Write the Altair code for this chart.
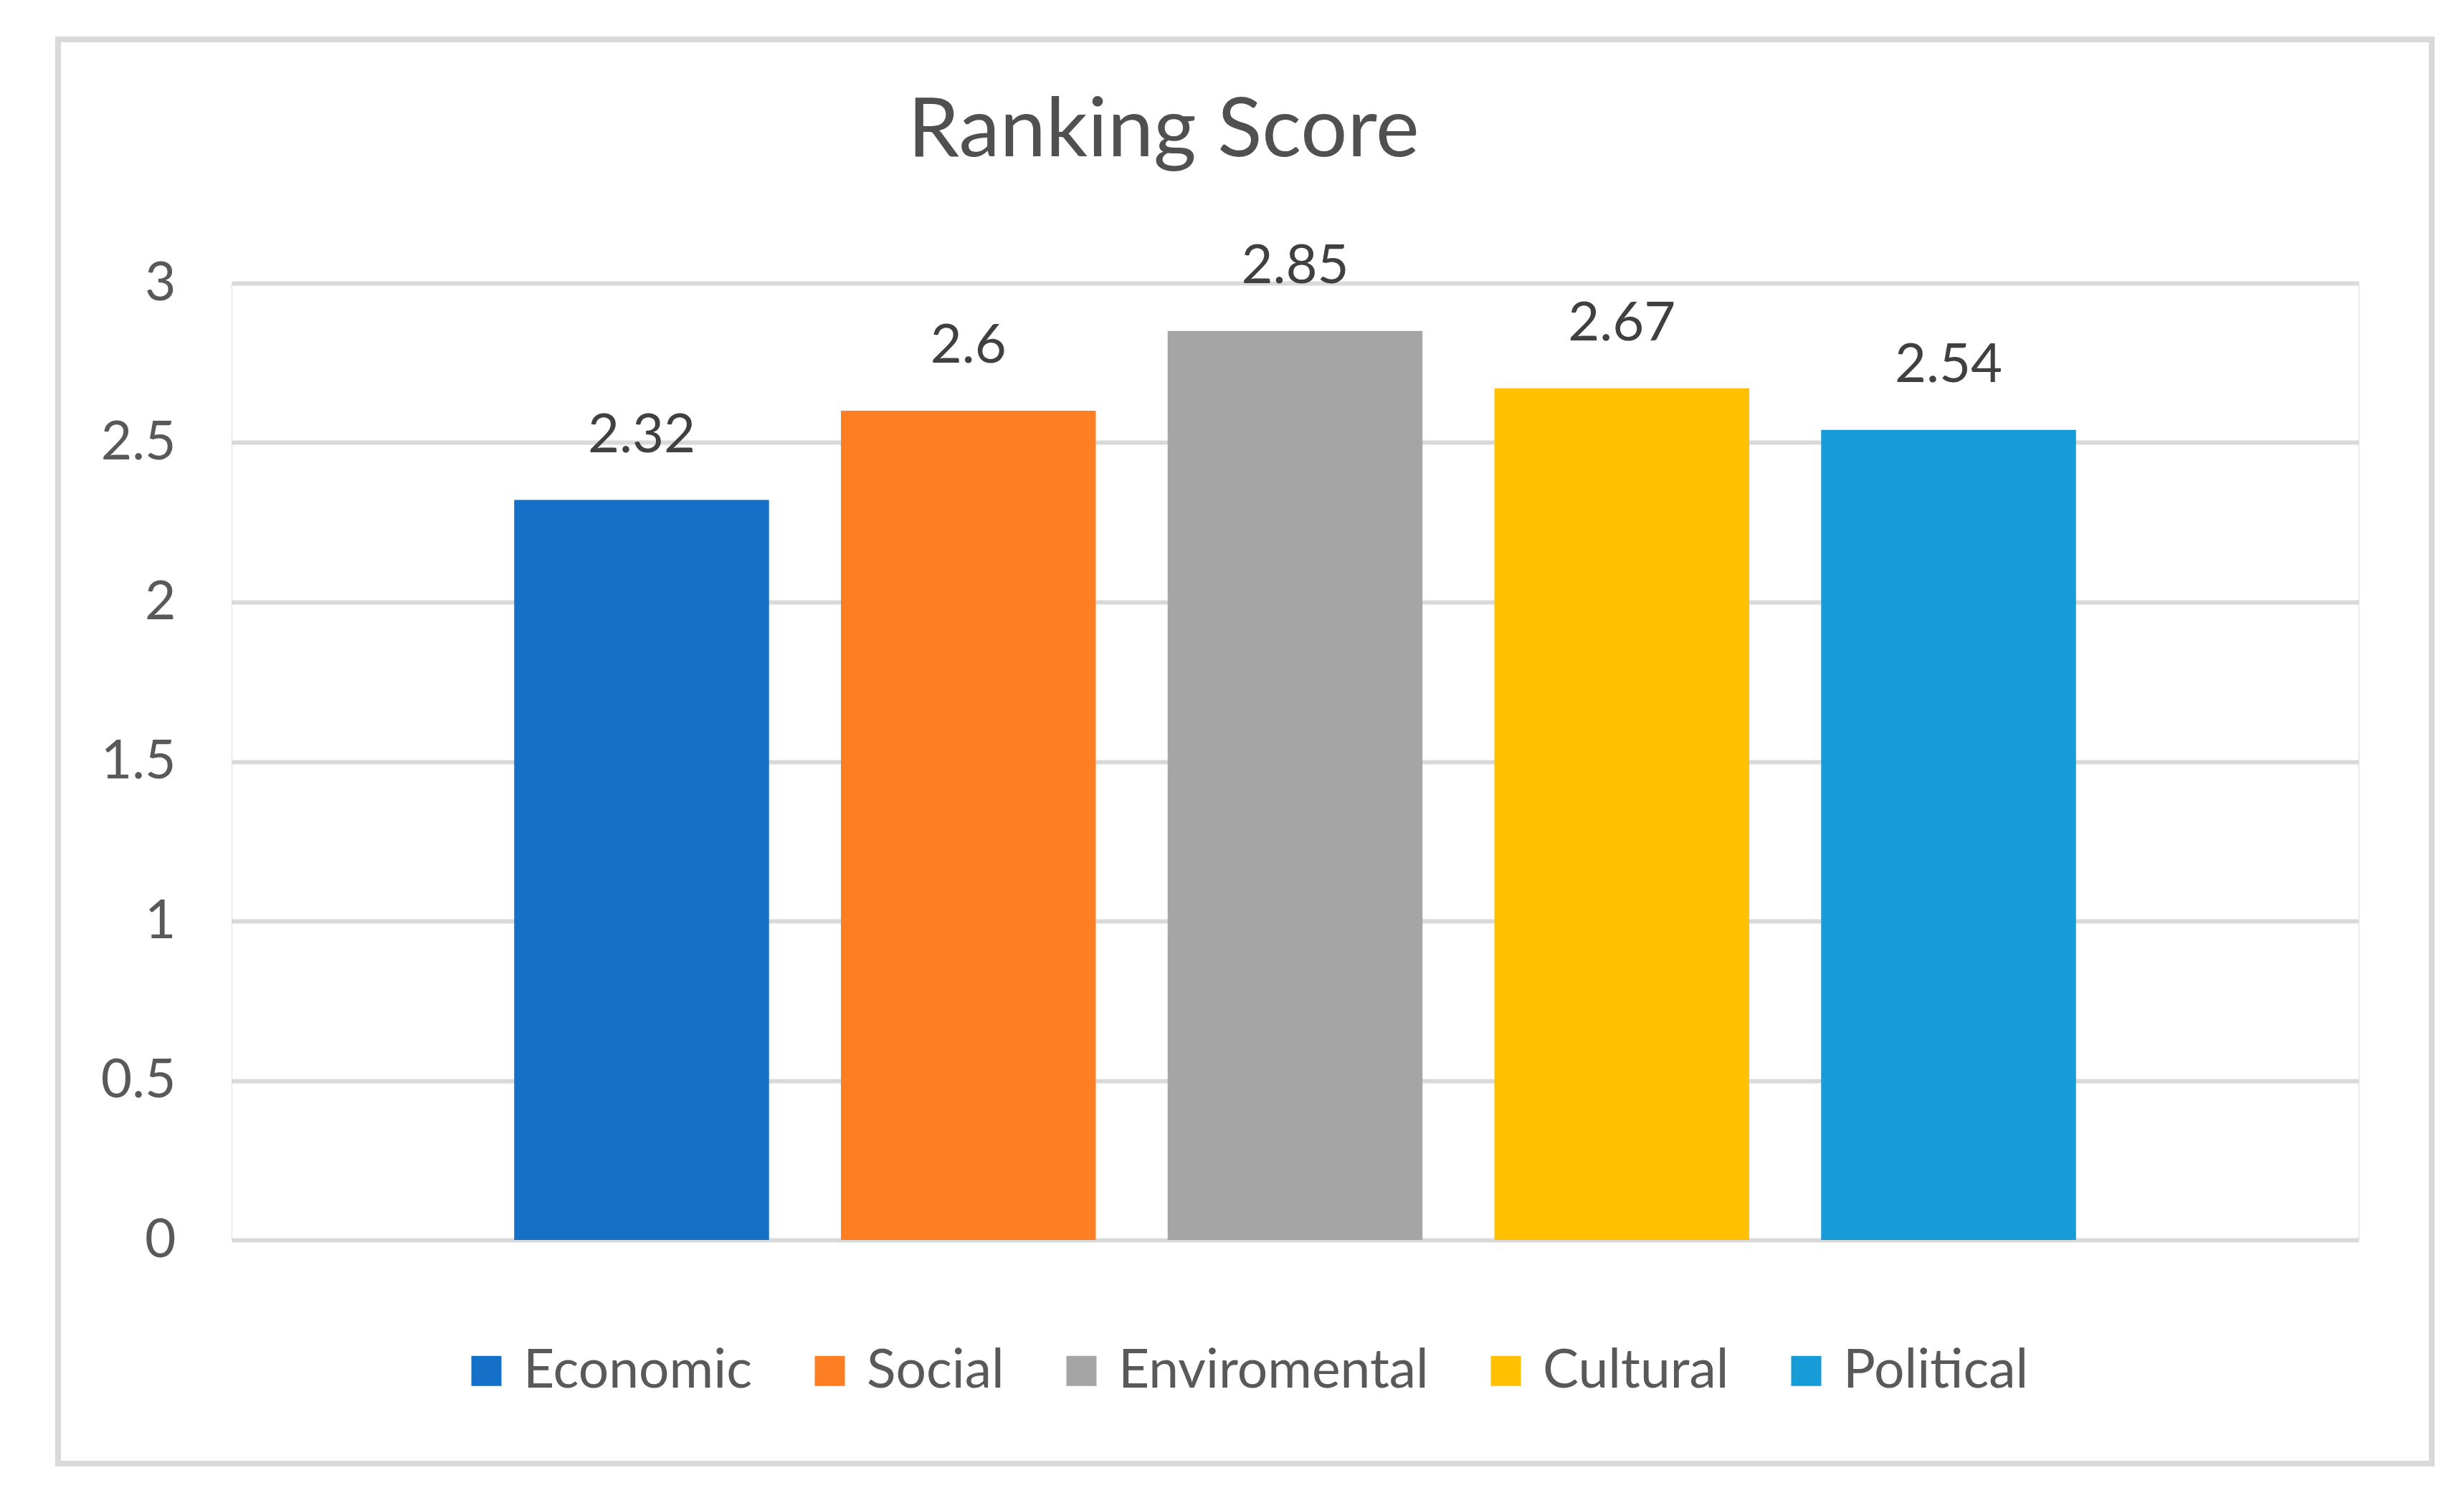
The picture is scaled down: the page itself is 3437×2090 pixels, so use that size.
import altair as alt
import pandas as pd

categories = ["Economic", "Social", "Enviromental", "Cultural", "Political"]
scores = [2.32, 2.6, 2.85, 2.67, 2.54]
colors = ["#1570C8", "#FD7E23", "#A5A5A5", "#FFC000", "#189CD8"]
y_ticks = [0, 0.5, 1, 1.5, 2, 2.5, 3]
title_text = "Ranking Score"

df = pd.DataFrame({"category": categories, "score": scores})

W = 2967
H = 1335
FONT = "Lato"

x = alt.X("category:N", sort=categories, axis=None,
          scale=alt.Scale(paddingInner=0.22, paddingOuter=0.865))
y = alt.Y("score:Q",
          scale=alt.Scale(domain=[0, 3], nice=False, zero=True),
          axis=alt.Axis(values=y_ticks, format="~g", title=None, domain=False,
                        ticks=False, labelPadding=78, labelFontSize=75,
                        labelColor="#595959", labelFont=FONT,
                        gridColor="#D9D9D9", gridWidth=6))
color = alt.Color("category:N", sort=categories,
                  scale=alt.Scale(domain=categories, range=colors),
                  legend=alt.Legend(orient="none", legendX=318, legendY=1480,
                                    direction="horizontal", title=None,
                                    symbolType="square", symbolSize=1764,
                                    symbolStrokeWidth=0, symbolOpacity=1,
                                    labelFontSize=75, labelFont=FONT,
                                    labelColor="#595959", columnPadding=70,
                                    labelOffset=14, labelLimit=2000))

base = alt.Chart(df)
bars = base.mark_bar().encode(x=x, y=y, color=color)
labels = base.mark_text(dy=-67, baseline="alphabetic", fontSize=76, font=FONT,
                        color="#404040").encode(
    x=x, y=y, text=alt.Text("score:Q", format="~g"))

one = pd.DataFrame({"t": [title_text]})
frame = alt.Chart(one).mark_rect(
    fillOpacity=0, stroke="#D9D9D9", strokeWidth=8).encode(
    x=alt.value(-242), x2=alt.value(3069), y=alt.value(-340), y2=alt.value(1647))
title = alt.Chart(one).mark_text(
    fontSize=115, font=FONT, color="#505050", align="center",
    baseline="alphabetic").encode(
    text="t:N", x=alt.value(1300), y=alt.value(-177))

chart = alt.layer(frame, bars, labels, title).properties(
    width=W, height=H,
    autosize=alt.AutoSizeParams(type="none"),
    padding={"left": 315, "top": 387, "right": 110, "bottom": 340},
).configure_view(stroke=None).configure(background="white")

chart.save("out.html", embed_options={"renderer": "svg", "actions": False})
